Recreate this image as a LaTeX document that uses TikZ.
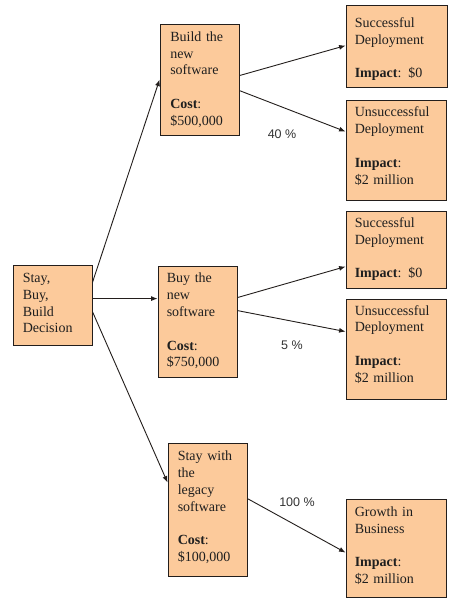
\documentclass[tikz,border=0pt]{standalone}
\usepackage{fontspec}
\setmainfont{Liberation Serif}
\newfontfamily\labelfont{Liberation Sans}
\usetikzlibrary{arrows.meta,calc}
\definecolor{peach}{RGB}{252,202,155}
\definecolor{edge}{RGB}{35,30,28}
\tikzset{
  box/.style={draw=edge, line width=0.85pt, fill=peach, inner sep=0pt, rectangle},
  txt/.style={anchor=base west, inner sep=0pt, text width=95pt, align=left,
    font=\fontsize{14}{16.8}\selectfont, text=black!88},
  pct/.style={inner sep=0pt, font=\labelfont\fontsize{12.5}{14}\selectfont, text=black!80},
  conn/.style={draw=edge, line width=0.9pt, -{Latex[length=6.5pt,width=5pt]}}
}
\newcommand\peachbox[5]{%
  \node[box, minimum width={#4-#2}, minimum height={#5-#3}] (#1) at ({(#2+#4)/2},{-(#3+#5)/2}) {};}
\begin{document}
\begin{tikzpicture}[x=1pt,y=1pt]
\useasboundingbox[fill=white] (0,0) rectangle (457,-600);
% boxes
\peachbox{dec}{13}{265}{92}{345}
\peachbox{build}{160}{24}{239}{135}
\peachbox{succA}{346}{5}{447}{87}
\peachbox{unsuccA}{346}{100}{446}{200}
\peachbox{buy}{158}{266}{237}{377}
\peachbox{succB}{346}{211}{446}{288}
\peachbox{unsuccB}{346}{299}{446}{399}
\peachbox{stay}{168}{443}{247}{576}
\peachbox{growth}{346}{499}{446}{597}
% texts
\node[txt] (dec-t) at ($(dec.north west)+(10,-18)$) {Stay,\\Buy,\\Build\\Decision};
\node[txt] (build-t) at ($(build.north west)+(10.5,-17.7)$) {Build the\\new\\software\\[16.8pt]\textbf{Cost}:\\\$500,000};
\node[txt] (succA-t) at ($(succA.north west)+(9,-23)$) {Successful\\Deployment\\[16.8pt]\textbf{Impact}: \$0};
\node[txt] (unsuccA-t) at ($(unsuccA.north west)+(9,-17.3)$) {Unsuccessful\\Deployment\\[16.8pt]\textbf{Impact}:\\\$2 million};
\node[txt] (buy-t) at ($(buy.north west)+(9,-17.3)$) {Buy the\\new\\software\\[16.8pt]\textbf{Cost}:\\\$750,000};
\node[txt] (succB-t) at ($(succB.north west)+(9,-16.8)$) {Successful\\Deployment\\[16.8pt]\textbf{Impact}: \$0};
\node[txt] (unsuccB-t) at ($(unsuccB.north west)+(9,-16.5)$) {Unsuccessful\\Deployment\\[16.8pt]\textbf{Impact}:\\\$2 million};
\node[txt] (stay-t) at ($(stay.north west)+(10,-18.3)$) {Stay with\\the\\legacy\\software\\[16.8pt]\textbf{Cost}:\\\$100,000};
\node[txt] (growth-t) at ($(growth.north west)+(9,-18)$) {Growth in\\Business\\[16.8pt]\textbf{Impact}:\\\$2 million};
% connectors
\draw[conn] ($(dec.north east)+(0,-18)$) -- ($(build.north west)+(0,-56)$);
\draw[conn] ($(dec.north east)+(0,-34)$) -- ($(buy.north west)+(0,-33)$);
\draw[conn] ($(dec.north east)+(0,-47)$) -- ($(stay.north west)+(0,-40)$);
\draw[conn] ($(build.north east)+(0,-52)$) -- ($(succA.north west)+(0,-41)$);
\draw[conn] ($(build.north east)+(0,-67)$) -- ($(unsuccA.north west)+(0,-32)$);
\draw[conn] ($(buy.north east)+(0,-32)$) -- ($(succB.north west)+(0,-56)$);
\draw[conn] ($(buy.north east)+(0,-45)$) -- ($(unsuccB.north west)+(0,-33)$);
\draw[conn] ($(stay.north east)+(0,-56)$) -- ($(growth.north west)+(0,-54)$);
% labels
\node[pct] (pA) at (282,-134) {40 \%};
\node[pct] (pB) at (292,-345) {5 \%};
\node[pct] (pC) at (297,-502) {100 \%};
\end{tikzpicture}
\end{document}
